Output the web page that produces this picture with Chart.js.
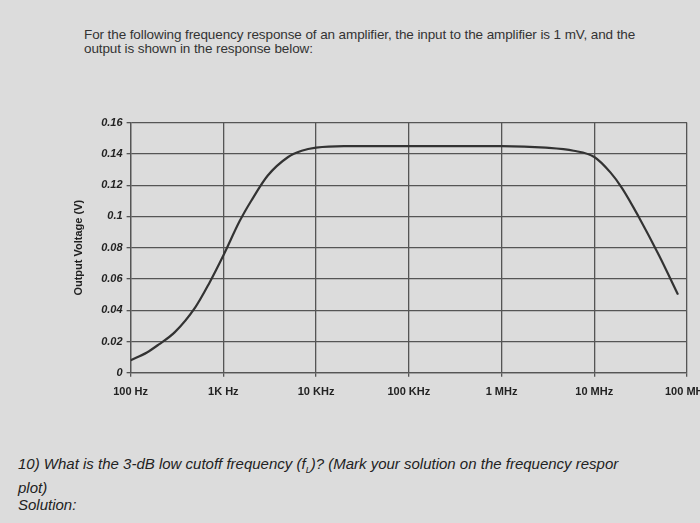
<!DOCTYPE html>
<html>
<head>
<meta charset="utf-8">
<script src="https://cdn.jsdelivr.net/npm/chart.js@4"></script>
<style>
  body { margin: 0; width: 700px; height: 523px; background: #dcdcdc; font-family: Arial, "Liberation Sans", sans-serif; overflow: hidden; position: relative; }
  .head { position: absolute; left: 84px; top: 28px; font-size: 13.5px; color: #333; line-height: 14px; letter-spacing: -0.1px; }
  .box { position: absolute; left: 68px; top: 112px; width: 650px; height: 296px; }
  .q { position: absolute; left: 18px; top: 455px; font-size: 15px; font-style: italic; color: #222; line-height: 17px; white-space: nowrap; }
</style>
</head>
<body>
<div class="head">For the following frequency response of an amplifier, the input to the amplifier is 1 mV, and the<br>output is shown in the response below:</div>
<div class="box"><canvas id="chart"></canvas></div>
<div class="q">10) What is the 3-dB low cutoff frequency (f<sub style="font-size:9px">L</sub>)? (Mark your solution on the frequency respor<br>plot)<br>Solution:</div>
<script>
// frequency points (Hz) and output voltage (V)
const freqs = [100, 150, 200, 300, 500, 700, 1000, 1500, 2000, 3000, 5000, 7000, 10000, 20000, 100000, 1000000, 3000000, 6000000, 10000000, 15000000, 20000000, 30000000, 50000000, 80000000];
const volts = [0.008, 0.013, 0.018, 0.026, 0.042, 0.057, 0.075, 0.097, 0.110, 0.126, 0.138, 0.142, 0.144, 0.145, 0.145, 0.145, 0.144, 0.142, 0.138, 0.128, 0.118, 0.100, 0.075, 0.050];
const decades = [100, 1000, 10000, 100000, 1000000, 10000000, 100000000];
const decadeLabels = ["100 Hz", "1K Hz", "10 KHz", "100 KHz", "1 MHz", "10 MHz", "100 MHz"];

new Chart(document.getElementById("chart"), {
    type: "line",
    data: {
        datasets: [{
            data: freqs.map((f, i) => ({ x: f, y: volts[i] })),
            borderColor: "#333",
            borderWidth: 2.2,
            pointRadius: 0,
            tension: 0.4,
            cubicInterpolationMode: "monotone",
            fill: false
        }]
    },
    options: {
        responsive: true,
        maintainAspectRatio: false,
        animation: false,
        plugins: { legend: { display: false }, tooltip: { enabled: false } },
        layout: { padding: { right: 0, top: 4 } },
        scales: {
            x: {
                type: "logarithmic",
                min: 100, max: 100000000,
                afterBuildTicks: (axis) => { axis.ticks = decades.map(v => ({ value: v })); },
                ticks: {
                    callback: (v) => decadeLabels[decades.indexOf(v)],
                    color: "#222", font: { size: 11, weight: "bold" },
                    maxRotation: 0, padding: 9
                },
                grid: { color: "#555", lineWidth: 1.3, tickLength: 4 },
                border: { color: "#555", width: 1.3 }
            },
            y: {
                min: 0, max: 0.16,
                ticks: {
                    stepSize: 0.02,
                    callback: (v) => +v.toFixed(2),
                    color: "#222", font: { size: 11, weight: "bold", style: "italic" },
                    padding: 4
                },
                grid: { color: "#555", lineWidth: 1.3, tickLength: 4 },
                border: { color: "#555", width: 1.3 },
                title: { display: true, text: "Output Voltage (V)", color: "#222", font: { size: 11, weight: "bold" }, padding: { bottom: 12 } }
            }
        }
    }
});
</script>
</body>
</html>
